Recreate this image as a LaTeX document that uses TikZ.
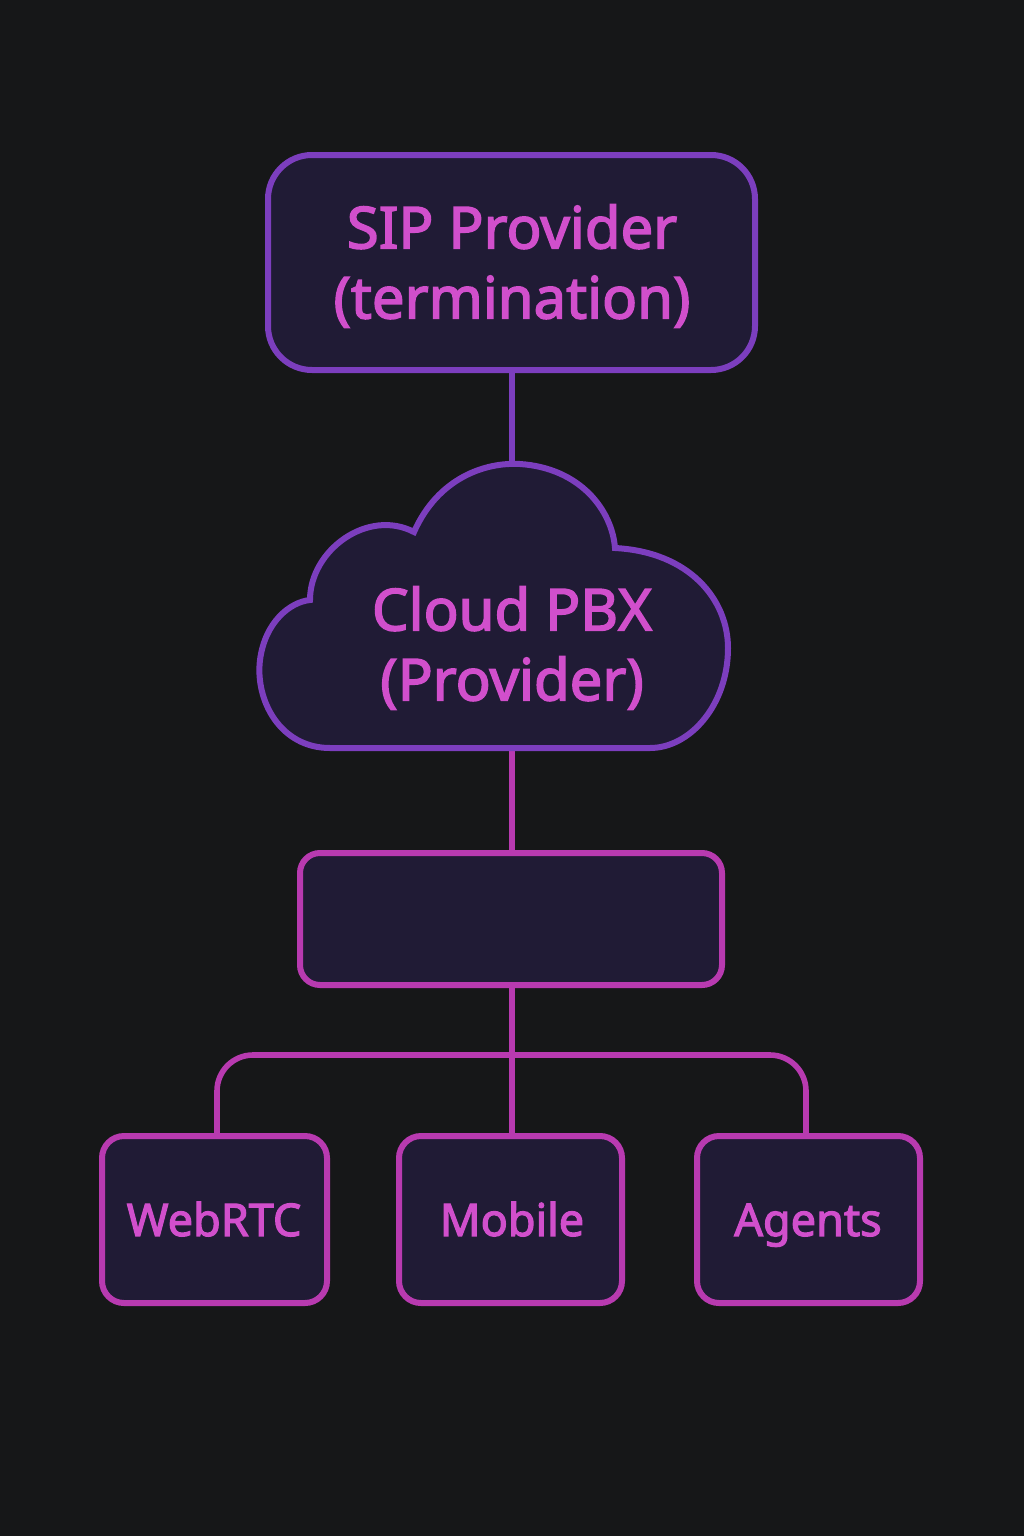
\documentclass[tikz,border=0pt]{standalone}
\usepackage{fontspec}
\setmainfont{Noto Sans}
\newfontfamily\mfont{Noto Sans}[FakeBold=2.6]
\definecolor{bg}{HTML}{161718}
\definecolor{boxfill}{HTML}{201B35}
\definecolor{purp}{HTML}{7C3EBE}
\definecolor{mag}{HTML}{B83AB0}
\definecolor{txt}{HTML}{D14FCC}
\begin{document}
\begin{tikzpicture}[x=0.5pt,y=-0.5pt,
  box/.style={draw=#1,fill=boxfill,line width=3pt},
  lbl/.style={text=txt,font=\mfont,align=center},
  small/.style={lbl,font=\mfont\fontsize{22.5}{26}\selectfont,text height=1.6ex,text depth=0.3ex},
  wire/.style={draw=#1,line width=2.8pt}]
\fill[bg] (0,0) rectangle (1024,1536);
\useasboundingbox (0,0) rectangle (1024,1536);
% connectors
\coordinate (a1) at (512,370); \coordinate (a2) at (512,470);
\coordinate (b1) at (512,745); \coordinate (b2) at (512,855);
\draw[wire=purp] (a1) -- (a2);
\draw[wire=mag] (b1) -- (b2);
\coordinate (c1) at (512,985); \coordinate (c2) at (512,1138);
\draw[wire=mag] (c1) -- (c2);
\coordinate (l1) at (217,1138); \coordinate (r1) at (806,1138);
\draw[wire=mag,rounded corners=18pt] (l1) |- (512,1055) -| (r1);
% SIP box
\draw[box=purp,rounded corners=22pt] (268,155) rectangle (755,370);
\node[lbl,font=\mfont\fontsize{29}{35}\selectfont] (sip) at (512,266) {SIP Provider\\(termination)};
% cloud
\draw[box=purp] (330,748) .. controls (280,748) and (255,700) .. (260,660)
  .. controls (265,622) and (290,602) .. (310,600)
  .. controls (310,550) and (368,508) .. (414,532)
  .. controls (438,478) and (485,462) .. (520,464)
  .. controls (580,468) and (612,510) .. (615,548)
  .. controls (690,552) and (728,600) .. (728,648)
  .. controls (728,705) and (690,748) .. (650,748) -- cycle;
\node[lbl,font=\mfont\fontsize{29}{35}\selectfont] (pbx) at (512,648) {Cloud PBX\\(Provider)};
% empty box
\draw[box=mag,rounded corners=10pt] (300,853) rectangle (722,985);
\node (mid) at (511,919) {};
% bottom boxes
\draw[box=mag,rounded corners=11pt] (102,1136) rectangle (327,1303);
\node[small] (w) at (214,1229) {WebRTC};
\draw[box=mag,rounded corners=11pt] (399,1136) rectangle (622,1303);
\node[small] (m) at (512,1229) {Mobile};
\draw[box=mag,rounded corners=11pt] (697,1136) rectangle (920,1303);
\node[small] (ag) at (808,1229) {Agents};
\end{tikzpicture}
\end{document}
